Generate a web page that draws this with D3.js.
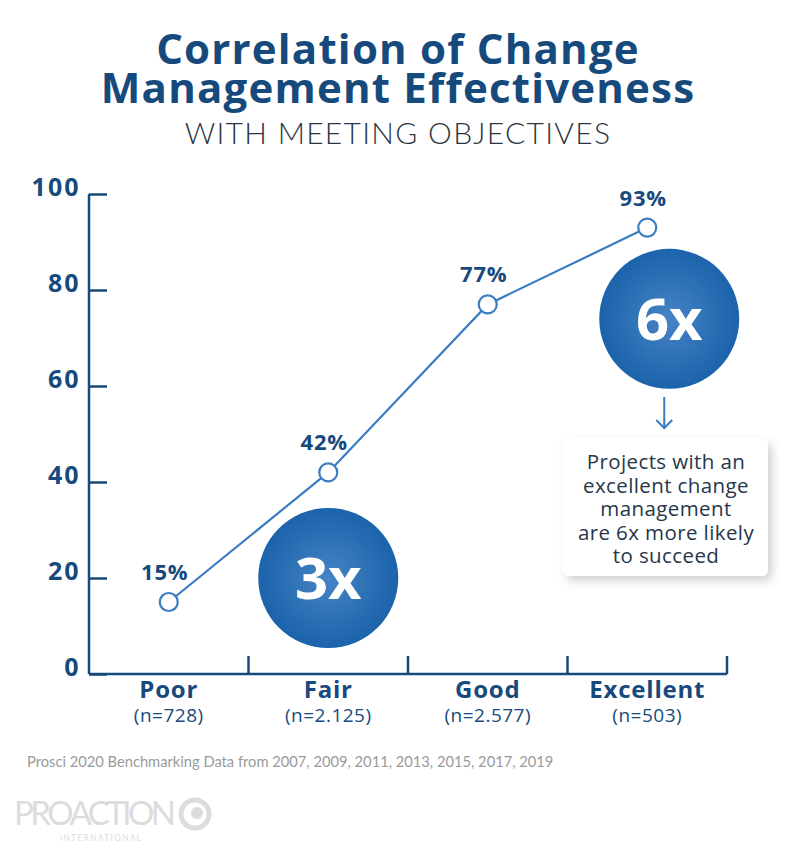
<!DOCTYPE html>
<html>
<head>
<meta charset="utf-8">
<script src="https://cdnjs.cloudflare.com/ajax/libs/d3/7.8.5/d3.min.js"></script>
<style>
    body { margin: 0; background: #fff; }
    svg { display: block; font-family: "Open Sans", "Lato", sans-serif; }
</style>
</head>
<body>
<div id="chart"></div>
<script>
const categories = ["Poor", "Fair", "Good", "Excellent"];
const sampleSizes = ["(n=728)", "(n=2.125)", "(n=2.577)", "(n=503)"];
const values = [15, 42, 77, 93];
const yTicks = [0, 20, 40, 60, 80, 100];
const titleLines = ["Correlation of Change", "Management Effectiveness"];
const calloutLines = ["Projects with an", "excellent change", "management", "are 6x more likely", "to succeed"];
const bubbles = [
    { label: "3x", category: "Fair", value: 20 },
    { label: "6x", category: "Excellent", value: 74 }
];

const width = 800, height = 853;
const dark = "#174a7c";
const lineBlue = "#3a7cc2";

const svg = d3.select("#chart").append("svg")
    .attr("width", width)
    .attr("height", height);

const defs = svg.append("defs");
const grad = defs.append("radialGradient").attr("id", "bubbleGrad");
grad.append("stop").attr("offset", "0%").attr("stop-color", "#4684c4");
grad.append("stop").attr("offset", "100%").attr("stop-color", "#1b63ab");

const shadow = defs.append("filter").attr("id", "boxShadow")
    .attr("x", "-20%").attr("y", "-20%").attr("width", "150%").attr("height", "150%");
shadow.append("feDropShadow")
    .attr("dx", 4).attr("dy", 5).attr("stdDeviation", 5)
    .attr("flood-color", "#000").attr("flood-opacity", 0.18);

// titles (one text block, two lines)
svg.append("text")
    .attr("text-anchor", "middle")
    .attr("font-size", 42).attr("font-weight", 700)
    .attr("letter-spacing", 1.2)
    .attr("fill", dark)
    .selectAll("tspan")
    .data(titleLines)
    .enter().append("tspan")
    .attr("x", 398).attr("y", (d, i) => 64 + i * 39)
    .text(d => d);
svg.append("text")
    .attr("x", 398).attr("y", 144)
    .attr("text-anchor", "middle")
    .attr("font-family", "Lato")
    .attr("font-size", 30).attr("font-weight", 300)
    .attr("letter-spacing", 1.3)
    .attr("fill", "#2b3542")
    .text("WITH MEETING OBJECTIVES");

// scales
const x = d3.scaleBand().domain(categories).range([89, 727]);
const y = d3.scaleLinear().domain([0, 100]).range([674, 194]);

// y axis
const yAxis = svg.append("g").attr("transform", "translate(89,0)")
    .call(d3.axisRight(y).tickValues(yTicks).tickSize(18).tickFormat(""));
yAxis.select(".domain").attr("d", `M0,${y(100)}V${y(0)}`);
yAxis.selectAll("path, line").attr("stroke", dark).attr("stroke-width", 2.5);

svg.selectAll(".ylab")
    .data(yTicks)
    .enter().append("text")
    .attr("class", "ylab")
    .attr("x", 80.5).attr("y", d => y(d) + 2)
    .attr("text-anchor", "end")
    .attr("font-size", 25).attr("font-weight", 700)
    .attr("letter-spacing", 2)
    .attr("fill", dark)
    .text(d => d);

// x axis
const xAxis = svg.append("g").attr("transform", `translate(0,${y(0)})`);
xAxis.append("line")
    .attr("x1", x.range()[0]).attr("x2", x.range()[1])
    .attr("stroke", dark).attr("stroke-width", 2.5);
xAxis.selectAll(".xtick")
    .data(categories.slice(1).map(c => x(c)).concat([x.range()[1]]))
    .enter().append("line")
    .attr("x1", d => d).attr("x2", d => d)
    .attr("y1", 0).attr("y2", -18)
    .attr("stroke", dark).attr("stroke-width", 2.5);

const cx = c => x(c) + x.bandwidth() / 2;

svg.selectAll(".xlab")
    .data(categories)
    .enter().append("text")
    .attr("x", cx).attr("y", 698)
    .attr("text-anchor", "middle")
    .attr("font-size", 24).attr("font-weight", 700)
    .attr("letter-spacing", 0.8)
    .attr("fill", dark)
    .text(d => d);
svg.selectAll(".nlab")
    .data(sampleSizes)
    .enter().append("text")
    .attr("x", (d, i) => cx(categories[i])).attr("y", 722)
    .attr("text-anchor", "middle")
    .attr("font-size", 19).attr("font-weight", 400)
    .attr("letter-spacing", 0.5)
    .attr("fill", dark)
    .text(d => d);

// bubbles
const bub = svg.selectAll(".bubble")
    .data(bubbles)
    .enter().append("g")
    .attr("transform", d => `translate(${cx(d.category) + (d.category === "Excellent" ? 22 : 0)},${y(d.value)})`);
bub.append("circle").attr("r", 70).attr("fill", "url(#bubbleGrad)");
bub.append("text")
    .attr("y", 21)
    .attr("text-anchor", "middle")
    .attr("font-size", 58).attr("font-weight", 700)
    .attr("fill", "#fff")
    .text(d => d.label);

// line + points
const pts = categories.map((c, i) => ({ c, v: values[i] }));
svg.append("path")
    .datum(pts)
    .attr("fill", "none")
    .attr("stroke", lineBlue).attr("stroke-width", 2.2)
    .attr("d", d3.line().x(d => cx(d.c)).y(d => y(d.v)));
svg.selectAll(".pt")
    .data(pts)
    .enter().append("circle")
    .attr("cx", d => cx(d.c)).attr("cy", d => y(d.v))
    .attr("r", 9)
    .attr("fill", "#fff")
    .attr("stroke", lineBlue).attr("stroke-width", 2.2);
svg.selectAll(".vlab")
    .data(pts)
    .enter().append("text")
    .attr("x", d => cx(d.c) - 4).attr("y", d => y(d.v) - 22)
    .attr("text-anchor", "middle")
    .attr("font-size", 22).attr("font-weight", 700)
    .attr("letter-spacing", 0.8)
    .attr("fill", dark)
    .text(d => d.v + "%");

// arrow + callout
const ax = cx("Excellent") + 17;
svg.append("path")
    .attr("d", `M${ax},397V428M${ax - 8},420L${ax},428L${ax + 8},420`)
    .attr("fill", "none").attr("stroke", lineBlue).attr("stroke-width", 2);
svg.append("rect")
    .attr("x", 563).attr("y", 438).attr("width", 205).attr("height", 138)
    .attr("rx", 6)
    .attr("fill", "#fff")
    .attr("filter", "url(#boxShadow)");
svg.append("text")
    .attr("text-anchor", "middle")
    .attr("font-size", 20.5).attr("font-weight", 500)
    .attr("letter-spacing", 0.4)
    .attr("fill", "#26374a")
    .selectAll("tspan")
    .data(calloutLines)
    .enter().append("tspan")
    .attr("x", 666).attr("y", (d, i) => 469 + i * 23.5)
    .text(d => d);

// footnote
svg.append("text")
    .attr("x", 27).attr("y", 767)
    .attr("font-family", "Lato")
    .attr("font-size", 14.7)
    .attr("fill", "#9a9a9a")
    .text("Prosci 2020 Benchmarking Data from 2007, 2009, 2011, 2013, 2015, 2017, 2019");

// logo
const logo = svg.append("g").attr("fill", "#dcdcdc").attr("font-family", "Lato");
logo.append("text").attr("x", 14).attr("y", 825)
    .attr("font-size", 33).attr("font-weight", 400)
    .attr("textLength", 162)
    .text("PROACTION");
logo.append("text").attr("x", 60).attr("y", 841)
    .attr("font-size", 8.5).attr("letter-spacing", 1.2)
    .text("INTERNATIONAL");
logo.append("circle").attr("cx", 195).attr("cy", 814).attr("r", 14)
    .attr("fill", "none").attr("stroke", "#dcdcdc").attr("stroke-width", 5);
logo.append("circle").attr("cx", 197).attr("cy", 813).attr("r", 6);
</script>
</body>
</html>
